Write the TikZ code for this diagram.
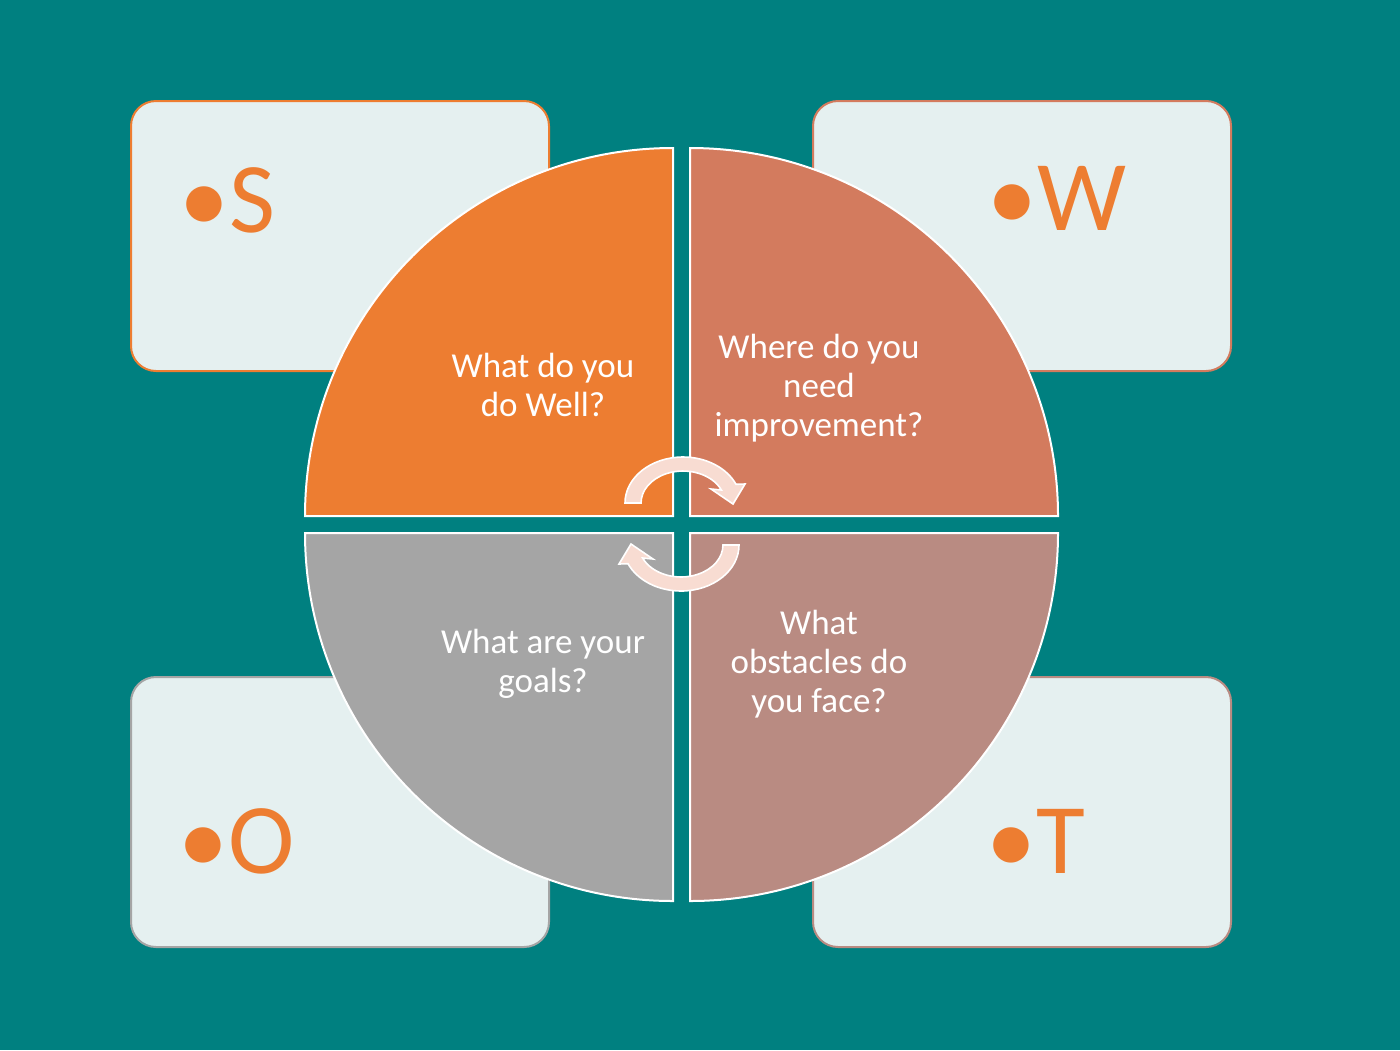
\documentclass[tikz,border=0pt]{standalone}
\usepackage{fontspec}
\setmainfont{Carlito}
\definecolor{bg}{RGB}{0,128,128}
\definecolor{boxfill}{RGB}{229,240,240}
\definecolor{qS}{RGB}{237,125,49}
\definecolor{qW}{RGB}{211,123,94}
\definecolor{qO}{RGB}{165,165,165}
\definecolor{qT}{RGB}{185,139,130}
\definecolor{arr}{RGB}{248,220,210}
\tikzset{
  card/.style={fill=boxfill, line width=1pt, rounded corners=12.5pt},
  quad/.style={draw=white, line width=1pt},
  qtext/.style={text=white, align=center, font=\fontsize{17.5}{19.5}\selectfont, inner sep=0pt},
  letter/.style={text=qS, font=\fontsize{50}{60}\selectfont, inner sep=0pt},
  cyc/.style={fill=arr, draw=white, line width=0.8pt, line join=miter}
}
\begin{document}
\begin{tikzpicture}[x=0.5pt,y=-0.5pt]
\fill[bg] (0,0) rectangle (1400,1050);
\useasboundingbox (0,0) rectangle (1400,1050);
% cards
\draw[card, draw=qS] (131,101) rectangle (549,371);
\draw[card, draw=qW] (813,101) rectangle (1231,371);
\draw[card, draw=qO] (131,677) rectangle (549,947);
\draw[card, draw=qT] (813,677) rectangle (1231,947);
% letters
\node[letter, anchor=base west] (sL) at (179,232) {•S};
\node[letter, anchor=base west] (wL) at (987,230) {•W};
\node[letter, anchor=base west] (oL) at (178,873) {•O};
\node[letter, anchor=base west] (tL) at (986,873) {•T};
% quadrants
\draw[quad, fill=qS] (673,516) -- (305,516) arc[start angle=180, end angle=270, radius=368] -- cycle;
\draw[quad, fill=qW] (690,516) -- (690,148) arc[start angle=270, end angle=360, radius=368] -- cycle;
\draw[quad, fill=qT] (690,533) -- (1058,533) arc[start angle=0, end angle=90, radius=368] -- cycle;
\draw[quad, fill=qO] (673,533) -- (673,901) arc[start angle=90, end angle=180, radius=368] -- cycle;
% quadrant texts
\node[qtext] (sT) at (543,385) {What do you\\do Well?};
\node[qtext] (wT) at (819,388) {Where do you\\need\\improvement?};
\node[qtext] (oT) at (543,664) {What are your\\goals?};
\node[qtext] (tT) at (819,664) {What\\obstacles do\\you face?};
% cycle arrows
\draw[cyc] (625,503) arc[start angle=180, end angle=336, x radius=58, y radius=46]
  -- (745,484) -- (733,504) -- (711,489) -- (721.4,490.0)
  arc[start angle=336, end angle=180, x radius=42, y radius=32] -- cycle;
\begin{scope}[rotate around={180:(682,524)}]
\draw[cyc] (625,503) arc[start angle=180, end angle=336, x radius=58, y radius=46]
  -- (745,484) -- (733,504) -- (711,489) -- (721.4,490.0)
  arc[start angle=336, end angle=180, x radius=42, y radius=32] -- cycle;
\end{scope}
\end{tikzpicture}
\end{document}
